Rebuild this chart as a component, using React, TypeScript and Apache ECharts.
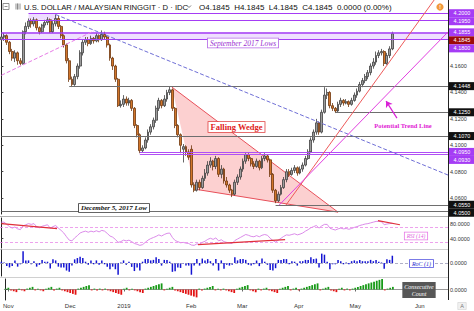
import React, { useEffect, useRef } from "react";
import * as echarts from "echarts";

// Weekday sessions from late Oct 2018 to mid June 2019 (x axis runs in session index)
const SESSION_COUNT = 165;
const monthTickSessions = [1, 24, 44, 69, 88, 109, 130, 154];
const monthTickLabels = ["Nov", "Dec", "2019", "Feb", "Mar", "Apr", "May", "Jun"];

// USD/MYR daily bars: [open, close, low, high]
const ohlc: number[][] = [
  [4.180, 4.182, 4.178, 4.184], [4.182, 4.183, 4.179, 4.185], [4.183, 4.178, 4.176, 4.184], [4.178, 4.171, 4.169, 4.179],
  [4.171, 4.166, 4.164, 4.173], [4.166, 4.170, 4.163, 4.172], [4.170, 4.164, 4.161, 4.171], [4.164, 4.162, 4.1605, 4.166],
  [4.162, 4.186, 4.161, 4.187], [4.186, 4.190, 4.184, 4.193], [4.190, 4.194, 4.188, 4.196], [4.194, 4.192, 4.189, 4.196],
  [4.192, 4.195, 4.190, 4.197], [4.195, 4.189, 4.187, 4.196], [4.189, 4.186, 4.184, 4.190], [4.186, 4.191, 4.185, 4.192],
  [4.191, 4.193, 4.189, 4.195], [4.193, 4.195, 4.191, 4.197], [4.195, 4.186, 4.185, 4.196], [4.186, 4.192, 4.185, 4.194],
  [4.192, 4.196, 4.190, 4.199], [4.196, 4.190, 4.188, 4.198], [4.190, 4.183, 4.181, 4.191], [4.183, 4.176, 4.174, 4.184],
  [4.176, 4.164, 4.162, 4.177], [4.164, 4.150, 4.148, 4.166], [4.150, 4.146, 4.1441, 4.152], [4.146, 4.152, 4.145, 4.154],
  [4.152, 4.160, 4.150, 4.162], [4.160, 4.170, 4.158, 4.172], [4.170, 4.178, 4.168, 4.180], [4.178, 4.180, 4.176, 4.182],
  [4.180, 4.177, 4.175, 4.182], [4.177, 4.181, 4.176, 4.183], [4.181, 4.179, 4.177, 4.182], [4.179, 4.183, 4.178, 4.185],
  [4.183, 4.180, 4.178, 4.184], [4.180, 4.184, 4.179, 4.187], [4.184, 4.182, 4.180, 4.186], [4.182, 4.176, 4.174, 4.183],
  [4.176, 4.166, 4.164, 4.177], [4.166, 4.160, 4.157, 4.167], [4.160, 4.150, 4.148, 4.161], [4.150, 4.130, 4.129, 4.151],
  [4.130, 4.131, 4.1285, 4.134], [4.131, 4.135, 4.129, 4.138], [4.135, 4.132, 4.130, 4.137], [4.132, 4.134, 4.130, 4.136],
  [4.134, 4.128, 4.126, 4.135], [4.128, 4.115, 4.113, 4.129], [4.115, 4.108, 4.106, 4.116], [4.108, 4.096, 4.094, 4.109],
  [4.096, 4.098, 4.0945, 4.100], [4.098, 4.104, 4.097, 4.106], [4.104, 4.110, 4.102, 4.112], [4.110, 4.114, 4.108, 4.116],
  [4.114, 4.119, 4.112, 4.121], [4.119, 4.128, 4.117, 4.130], [4.128, 4.134, 4.126, 4.136], [4.134, 4.130, 4.128, 4.135],
  [4.130, 4.135, 4.129, 4.138], [4.135, 4.140, 4.133, 4.142], [4.140, 4.142, 4.138, 4.1441], [4.142, 4.128, 4.126, 4.143],
  [4.128, 4.115, 4.113, 4.129], [4.115, 4.108, 4.106, 4.116], [4.108, 4.100, 4.094, 4.109], [4.097, 4.099, 4.087, 4.101],
  [4.099, 4.095, 4.092, 4.100], [4.095, 4.091, 4.089, 4.097], [4.097, 4.070, 4.068, 4.100], [4.070, 4.066, 4.0645, 4.072],
  [4.066, 4.072, 4.065, 4.074], [4.072, 4.068, 4.066, 4.074], [4.068, 4.075, 4.067, 4.077], [4.075, 4.079, 4.073, 4.082],
  [4.079, 4.085, 4.077, 4.088], [4.085, 4.088, 4.083, 4.091], [4.088, 4.084, 4.081, 4.089], [4.084, 4.090, 4.082, 4.092],
  [4.090, 4.078, 4.076, 4.091], [4.078, 4.082, 4.075, 4.085], [4.082, 4.073, 4.071, 4.083], [4.073, 4.070, 4.068, 4.076],
  [4.070, 4.066, 4.064, 4.071], [4.066, 4.063, 4.0608, 4.067], [4.063, 4.072, 4.062, 4.074], [4.072, 4.076, 4.070, 4.078],
  [4.076, 4.082, 4.074, 4.084], [4.082, 4.088, 4.080, 4.090], [4.088, 4.093, 4.086, 4.094], [4.093, 4.090, 4.088, 4.094],
  [4.090, 4.086, 4.084, 4.091], [4.086, 4.084, 4.082, 4.088], [4.084, 4.088, 4.083, 4.090], [4.088, 4.083, 4.081, 4.089],
  [4.083, 4.090, 4.082, 4.092], [4.090, 4.092, 4.088, 4.094], [4.092, 4.089, 4.087, 4.093], [4.089, 4.078, 4.076, 4.090],
  [4.078, 4.066, 4.064, 4.079], [4.066, 4.058, 4.0562, 4.067], [4.058, 4.063, 4.057, 4.065], [4.063, 4.068, 4.062, 4.070],
  [4.068, 4.074, 4.067, 4.076], [4.074, 4.080, 4.072, 4.082], [4.080, 4.078, 4.076, 4.082], [4.078, 4.081, 4.077, 4.083],
  [4.081, 4.083, 4.079, 4.085], [4.083, 4.079, 4.077, 4.084], [4.079, 4.082, 4.078, 4.084], [4.082, 4.085, 4.080, 4.087],
  [4.085, 4.090, 4.084, 4.092], [4.090, 4.095, 4.089, 4.097], [4.095, 4.104, 4.094, 4.106], [4.104, 4.110, 4.102, 4.112],
  [4.110, 4.117, 4.108, 4.120], [4.117, 4.110, 4.108, 4.118], [4.110, 4.125, 4.109, 4.127], [4.125, 4.138, 4.124, 4.144],
  [4.138, 4.140, 4.135, 4.143], [4.140, 4.130, 4.128, 4.141], [4.130, 4.128, 4.126, 4.132], [4.128, 4.126, 4.1244, 4.129],
  [4.126, 4.131, 4.125, 4.133], [4.131, 4.134, 4.129, 4.136], [4.134, 4.132, 4.130, 4.135], [4.132, 4.133, 4.131, 4.135],
  [4.133, 4.131, 4.129, 4.134], [4.131, 4.134, 4.130, 4.136], [4.134, 4.138, 4.133, 4.140], [4.138, 4.141, 4.136, 4.143],
  [4.141, 4.146, 4.140, 4.148], [4.146, 4.149, 4.144, 4.151], [4.149, 4.152, 4.147, 4.154], [4.152, 4.155, 4.150, 4.157],
  [4.155, 4.160, 4.153, 4.162], [4.160, 4.163, 4.158, 4.166], [4.163, 4.168, 4.161, 4.171], [4.168, 4.170, 4.166, 4.172],
  [4.170, 4.171, 4.168, 4.173], [4.171, 4.162, 4.160, 4.172], [4.162, 4.168, 4.161, 4.170], [4.168, 4.173, 4.166, 4.175],
  [4.173, 4.1845, 4.172, 4.186],
];

// RSI (14)
const rsi14 = [
  84, 84, 78, 72, 68, 71, 66, 64, 74, 77, 80, 78, 80, 72, 69, 73, 75, 77, 68, 72, 75,
  68, 62, 55, 45, 36, 34, 42, 48, 55, 58, 60, 57, 60, 58, 61, 58, 62, 60,
  54, 47, 44, 38, 30, 32, 36, 34, 36, 32, 27, 25, 22, 24, 30, 36, 40, 43, 46,
  50, 47, 51, 54, 55, 43, 35, 32, 29, 30, 28, 27, 23, 22, 26, 25, 30, 33,
  38, 41, 38, 42, 34, 37, 32, 30, 28, 27, 35, 39, 43, 47, 51, 49, 46, 45, 48, 45, 49, 51, 49,
  41, 35, 31, 36, 41, 46, 50, 49, 51, 53, 50, 52, 55, 60, 64, 69, 72, 75, 68, 74, 78, 78, 68,
  65, 63, 66, 68, 66, 67, 65, 67, 70, 72, 75, 77, 79, 80, 82, 84, 86, 86, 85, 77, 79, 80, 81,
];

// Rate of change (1), percent
const roc1 = [
  0.05, 0.02, -0.12, -0.17, -0.12, 0.10, -0.14, -0.05, 0.45, 0.10, 0.10, -0.05, 0.07, -0.14, -0.07,
  0.12, 0.05, 0.05, -0.21, 0.14, 0.10, -0.14, -0.17, -0.17, -0.29, -0.34, -0.10, 0.14, 0.19, 0.24,
  0.19, 0.05, -0.07, 0.10, -0.05, 0.10, -0.07, 0.10, -0.05, -0.14, -0.24, -0.14, -0.24, -0.45, 0.02,
  0.10, -0.07, 0.05, -0.15, -0.31, -0.17, -0.29, 0.05, 0.15, 0.15, 0.10, 0.12, 0.22, 0.15, -0.10,
  0.12, 0.12, 0.05, -0.34, -0.32, -0.17, -0.19, -0.02, -0.10, -0.10, -0.45, -0.10, 0.15, -0.10, 0.17,
  0.10, 0.15, 0.07, -0.10, 0.15, -0.29, 0.10, -0.22, -0.07, -0.10, -0.07, 0.22, 0.10, 0.15, 0.15,
  0.12, -0.07, -0.10, -0.05, 0.10, -0.12, 0.17, 0.05, -0.07, -0.27, -0.29, -0.20, 0.12, 0.12, 0.15,
  0.15, -0.05, 0.07, 0.05, -0.10, 0.07, 0.07, 0.12, 0.12, 0.22, 0.15, 0.17, -0.17, 0.36, 0.32,
  0.05, -0.24, -0.05, -0.05, 0.12, 0.07, -0.05, 0.02, -0.05, 0.07, 0.10, 0.07, 0.12, 0.07, 0.07,
  0.07, 0.12, 0.07, 0.12, 0.05, 0.02, -0.22, 0.14, 0.12, 0.28,
];

// Consecutive up (+) / down (-) closes
const consecutiveCount = [
  1, 2, -1, -2, -3, 1, -1, -2, 1, 2, 3, -1, 1, -1, -2, 1, 2, 3, -1, 1, 2,
  -1, -2, -3, -4, -5, -6, 1, 2, 3, 4, 5, -1, 1, -1, 1, -1, 1, -1,
  -2, -3, -4, -5, -6, 1, 2, -1, 1, -1, -2, -3, -4, 1, 2, 3, 4, 5, 6, 7, -1, 1, 2, 3,
  -1, -2, -3, -4, -5, -6, -7, -8, -9, 1, -1, 1, 2, 3, 4, -1, 1, -1, 1, -1, -2, -3, -4,
  1, 2, 3, 4, 5, -1, -2, -3, 1, -1, 1, 2, -1, -2, -3, -4, 1, 2, 3, 4, -1, 1, 2, -1,
  1, 2, 3, 4, 5, 6, 7, -1, 1, 2, 3, -1, -2, -3, 1, 2, -1, 1, -1,
  1, 2, 3, 4, 5, 6, 7, 8, 9, 10, 11, 12, -1, 1, 2, 3,
];

const priceTicks = [4.06, 4.08, 4.1, 4.12, 4.14, 4.16];
const lastClose = 4.1845;

// Horizontal levels with the session each one is drawn from
const supportLevels = [4.1448, 4.125, 4.107, 4.055, 4.05];
const supportStarts = [25, 123, 0, 101, 0];
const septemberLows = [4.2, 4.195, 4.1855, 4.18];
const septemberStarts = [10, 10, 0, 0];
const januaryLows = [4.095, 4.093];
const januaryStarts = [51, 51];

// Trend lines as [session, price] anchors
const resistanceLine = [[20, 4.199], [164.5, 4.0775]];
const earlySupportLine = [[0, 4.153], [34, 4.1865]];
const wedgeVertices = [[62.8, 4.1441], [71.3, 4.0668], [124, 4.0494]];
const channelLine = [[104.8, 4.0547], [159.4, 4.21]];
const potentialTrendLine = [[102.3, 4.0547], [164.5, 4.1858]];
const arrowLine = [[145.7, 4.1206], [141.7, 4.1335]];
const rsiDivergence = [
  [[0, 80], [20.5, 66.7]],
  [[72.4, 24], [104.5, 37.3]],
  [[138.7, 88], [146.8, 77]],
];

const PURPLE = "#a53cf5";
const SERIF = '"Liberation Serif", "Times New Roman", serif';
const SANS = '"Liberation Sans", Arial, sans-serif';
const X_MAX = SESSION_COUNT - 0.5;

function seg(a: number[], b: number[], color: string, width = 1, type: string = "solid") {
  return [{ coord: a, lineStyle: { color, width, type } }, { coord: b }];
}

function xAxisFor(gridIndex: number, show: boolean) {
  return {
    type: "value",
    gridIndex,
    min: -0.5,
    max: X_MAX,
    show,
    splitLine: { show: false },
    axisLine: { show, lineStyle: { color: "#999", width: 1 } },
    axisTick: { show, length: 2, customValues: monthTickSessions, lineStyle: { color: "#666" } },
    axisLabel: {
      show,
      customValues: monthTickSessions,
      formatter: (v: number) => monthTickLabels[monthTickSessions.indexOf(v)] ?? "",
      fontSize: 6,
      fontFamily: SANS,
      color: "#333",
      margin: 3,
    },
  };
}

function yAxisFor(gridIndex: number, min: number, max: number, ticks: number[]) {
  return {
    type: "value",
    gridIndex,
    position: "right",
    min,
    max,
    splitLine: { show: false },
    axisLine: { show: true, lineStyle: { color: "#222", width: 1 } },
    axisTick: { show: true, length: 2, customValues: ticks, lineStyle: { color: "#444" } },
    axisLabel: {
      customValues: ticks,
      formatter: (v: number) => v.toFixed(4),
      fontSize: 5.5,
      fontFamily: SANS,
      color: "#333",
      margin: 2,
    },
  };
}

export default function App() {
  const ref = useRef<HTMLDivElement>(null);

  useEffect(() => {
    if (!ref.current) return;
    const chart = echarts.init(ref.current, undefined, { renderer: "svg" });

    const levelLines: any[] = [];
    supportLevels.forEach((p, i) => levelLines.push(seg([supportStarts[i], p], [X_MAX, p], "#6e6e6e", 1)));
    septemberLows.forEach((p, i) =>
      levelLines.push(seg([septemberStarts[i], p], [X_MAX, p], PURPLE, i === 2 ? 1.6 : 1))
    );
    januaryLows.forEach((p, i) => levelLines.push(seg([januaryStarts[i], p], [X_MAX, p], "#b04ff5", 1)));
    levelLines.push(seg(resistanceLine[0], resistanceLine[1], "#6f6fd6", 1, "dashed"));
    levelLines.push(seg(earlySupportLine[0], earlySupportLine[1], "#e77be6", 1, "dashed"));
    levelLines.push(seg(channelLine[0], channelLine[1], "#ee5a5a", 1));
    levelLines.push(seg(potentialTrendLine[0], potentialTrendLine[1], "#e23fe0", 1));

    const option: any = {
      animation: false,
      backgroundColor: "#ffffff",
      grid: [
        { left: 0, width: 448, top: 0, height: 214 },
        { left: 0, width: 448, top: 218, height: 30 },
        { left: 0, width: 448, top: 250, height: 26 },
        { left: 0, width: 448, top: 279, height: 21 },
      ],
      xAxis: [xAxisFor(0, false), xAxisFor(1, false), xAxisFor(2, false), xAxisFor(3, true)],
      yAxis: [
        yAxisFor(0, 4.048, 4.21, priceTicks),
        yAxisFor(1, 15, 95, [40, 80]),
        yAxisFor(2, -0.5, 0.5, [0]),
        yAxisFor(3, -12, 12, [0]),
      ],
      series: [
        {
          type: "custom",
          name: "Falling Wedge",
          xAxisIndex: 0,
          yAxisIndex: 0,
          z: 1,
          silent: true,
          data: [wedgeVertices[0]],
          renderItem: (_p: any, api: any) => {
            const pts = wedgeVertices.map((v) => api.coord(v));
            return {
              type: "group",
              children: [
                { type: "polygon", shape: { points: pts }, style: { fill: "rgba(248,150,150,0.45)" } },
                {
                  type: "polyline",
                  shape: { points: [pts[1], pts[2], pts[0]] },
                  style: { stroke: "#e8505a", lineWidth: 1, fill: "none" },
                },
              ],
            };
          },
        },
        {
          type: "candlestick",
          name: "USD/MYR",
          xAxisIndex: 0,
          yAxisIndex: 0,
          z: 3,
          barWidth: 2.4,
          data: ohlc.map((r, i) => [i, r[0], r[1], r[2], r[3]]),
          itemStyle: {
            color: "#9c9c9c",
            color0: "#d2762a",
            borderColor: "#3f3f3f",
            borderColor0: "#6e360c",
            borderWidth: 0.8,
          },
          markArea: {
            silent: true,
            data: [
              [
                { coord: [0, septemberLows[3]], itemStyle: { color: "rgba(196,140,255,0.28)" } },
                { coord: [X_MAX, septemberLows[2]] },
              ],
              [
                { coord: [septemberStarts[0], septemberLows[1]], itemStyle: { color: "rgba(196,140,255,0.3)" } },
                { coord: [20.5, septemberLows[0]] },
              ],
            ],
          },
          markLine: {
            silent: true,
            symbol: ["none", "none"],
            label: { show: false },
            data: levelLines,
          },
        },
        {
          type: "line",
          name: "arrow",
          xAxisIndex: 0,
          yAxisIndex: 0,
          data: [],
          markLine: {
            silent: true,
            symbol: ["none", "arrow"],
            symbolSize: 6,
            label: { show: false },
            data: [seg(arrowLine[0], arrowLine[1], "#d81fd6", 1.2)],
          },
        },
        {
          type: "line",
          name: "RSI (14)",
          xAxisIndex: 1,
          yAxisIndex: 1,
          showSymbol: false,
          data: rsi14.map((v, i) => [i, v]),
          lineStyle: { color: "#d77fe6", width: 0.9 },
          markLine: {
            silent: true,
            symbol: ["none", "none"],
            label: { show: false },
            data: [
              { yAxis: 70, lineStyle: { color: "#e88ae8", type: [3, 2], width: 0.8 } },
              { yAxis: 30, lineStyle: { color: "#e88ae8", type: [3, 2], width: 0.8 } },
              ...rsiDivergence.map((d) => seg(d[0], d[1], "#e0303a", 1.2)),
            ],
          },
        },
        {
          type: "bar",
          name: "RoC (1)",
          xAxisIndex: 2,
          yAxisIndex: 2,
          barWidth: 1.5,
          data: roc1.map((v, i) => [i, v]),
          itemStyle: { color: "#1414d2" },
          markLine: {
            silent: true,
            symbol: ["none", "none"],
            label: { show: false },
            data: [{ yAxis: 0, lineStyle: { color: "#9a9ab8", type: [3, 2], width: 0.8 } }],
          },
        },
        {
          type: "bar",
          name: "Consecutive Count",
          xAxisIndex: 3,
          yAxisIndex: 3,
          barWidth: 1.8,
          data: consecutiveCount.map((v, i) => [i, v]),
          itemStyle: { color: (p: any) => (p.value[1] >= 0 ? "#179a17" : "#e21414") },
        },
      ],
    };
    chart.setOption(option);

    // price tags on the right axis, nudged apart so they never overlap
    const tagDefs: { v: number; c: string }[] = [
      ...septemberLows.map((v) => ({ v, c: PURPLE })),
      { v: lastClose, c: "#9c0a0a" },
      ...supportLevels.map((v) => ({ v, c: "#111111" })),
      ...januaryLows.map((v) => ({ v, c: PURPLE })),
    ];
    const placed = tagDefs
      .map((t) => ({ ...t, y: chart.convertToPixel({ yAxisIndex: 0 } as any, t.v) as number }))
      .sort((a, b) => a.y - b.y);
    for (let i = 1; i < placed.length; i++) {
      if (placed[i].y < placed[i - 1].y + 8) placed[i].y = placed[i - 1].y + 8;
    }
    const tags = placed.map((t) => ({
      type: "group",
      z: 50,
      children: [
        { type: "rect", shape: { x: 449, y: t.y - 4, width: 25, height: 8 }, style: { fill: t.c } },
        {
          type: "text",
          style: {
            x: 462,
            y: t.y,
            text: t.v.toFixed(4),
            fill: "#ffffff",
            font: `5.5px ${SANS}`,
            align: "center",
            verticalAlign: "middle",
          },
        },
      ],
    }));

    const boxText = (x: number, y: number, text: string, font: string, fill: string, border: string, bg = "#ffffff") => ({
      type: "text",
      z: 40,
      style: {
        x,
        y,
        text,
        font,
        fill,
        align: "center",
        verticalAlign: "middle",
        backgroundColor: bg,
        borderColor: border,
        borderWidth: border ? 0.8 : 0,
        padding: [1, 2, 0, 2],
      },
    });

    chart.setOption({
      graphic: [
        // header
        { type: "rect", shape: { x: 3, y: 3.5, width: 6, height: 6 }, style: { fill: "none", stroke: "#777", lineWidth: 0.8 } },
        { type: "line", shape: { x1: 4.5, y1: 6.5, x2: 7.5, y2: 6.5 }, style: { stroke: "#777", lineWidth: 0.8 } },
        { type: "rect", shape: { x: 15, y: 3.5, width: 6, height: 6 }, style: { fill: "#c8c8c8" } },
        { type: "rect", shape: { x: 17, y: 3.5, width: 1, height: 6 }, style: { fill: "#8a8a8a" } },
        {
          type: "text",
          style: { x: 24, y: 7, text: "U.S. DOLLAR / MALAYSIAN RINGGIT · D · IDC", font: `7.7px ${SANS}`, fill: "#111", verticalAlign: "middle" },
        },
        { type: "polyline", shape: { points: [[187, 5.5], [189, 7.5], [191, 5.5]] }, style: { stroke: "#555", lineWidth: 0.8, fill: "none" } },
        {
          type: "text",
          style: {
            x: 199,
            y: 7,
            text: "O4.1845  H4.1845  L4.1845  C4.1845  0.0000 (0.00%)",
            font: `8px ${SANS}`,
            fill: "#111",
            verticalAlign: "middle",
          },
        },
        { type: "circle", shape: { cx: 440, cy: 7, r: 3.6 }, style: { fill: "#f29a3c" } },
        { type: "text", style: { x: 440, y: 7.2, text: "!", font: `bold 5px ${SANS}`, fill: "#fff", align: "center", verticalAlign: "middle" } },
        // axis spine and panel separators
        { type: "line", z: 30, shape: { x1: 448.5, y1: 0, x2: 448.5, y2: 300 }, style: { stroke: "#222", lineWidth: 1 } },
        { type: "line", shape: { x1: 0, y1: 216.5, x2: 448, y2: 216.5 }, style: { stroke: "#9a9a9a", lineWidth: 0.8 } },
        { type: "line", shape: { x1: 0, y1: 249.5, x2: 448, y2: 249.5 }, style: { stroke: "#c4c4c4", lineWidth: 0.8 } },
        { type: "line", shape: { x1: 0, y1: 277.5, x2: 448, y2: 277.5 }, style: { stroke: "#c4c4c4", lineWidth: 0.8 } },
        // annotations
        boxText(236.5, 127, "Falling Wedge", `bold 8.5px ${SERIF}`, "#e01c1c", "#e04040"),
        boxText(243, 43, "September 2017 Lows", `italic 7.5px ${SERIF}`, "#9a32d2", "#b466e6"),
        boxText(114, 208, "December 5, 2017 Low", `italic bold 7px ${SERIF}`, "#111", "#333"),
        {
          type: "text",
          z: 40,
          style: { x: 403, y: 125, text: "Potential Trend Line", font: `bold 6.5px ${SERIF}`, fill: "#df22d4", align: "center", verticalAlign: "middle" },
        },
        boxText(416, 236, "RSI (14)", `italic 5.5px ${SERIF}`, "#e060e0", "#e67ae6"),
        boxText(421.5, 263.5, "RoC (1)", `italic 6px ${SERIF}`, "#2d2dd0", "#5050e0"),
        {
          type: "text",
          z: 40,
          style: {
            x: 419,
            y: 290,
            text: "Consecutive\nCount",
            font: `italic 6px ${SERIF}`,
            lineHeight: 7,
            fill: "#ffffff",
            align: "center",
            verticalAlign: "middle",
            backgroundColor: "#575757",
            padding: [1, 2, 1, 2],
          },
        },
        {
          type: "text",
          style: {
            x: 462,
            y: 306,
            text: "A",
            font: `5.5px ${SANS}`,
            fill: "#777",
            align: "center",
            verticalAlign: "middle",
            backgroundColor: "#f1f1f1",
            borderColor: "#cfcfcf",
            borderWidth: 0.6,
            padding: [0.5, 2, 0, 2],
          },
        },
        ...tags,
      ],
    });

    return () => chart.dispose();
  }, []);

  return (
    <div
      ref={ref}
      style={{ position: "fixed", left: 0, top: 0, width: 474, height: 311, background: "#fff" }}
    />
  );
}
